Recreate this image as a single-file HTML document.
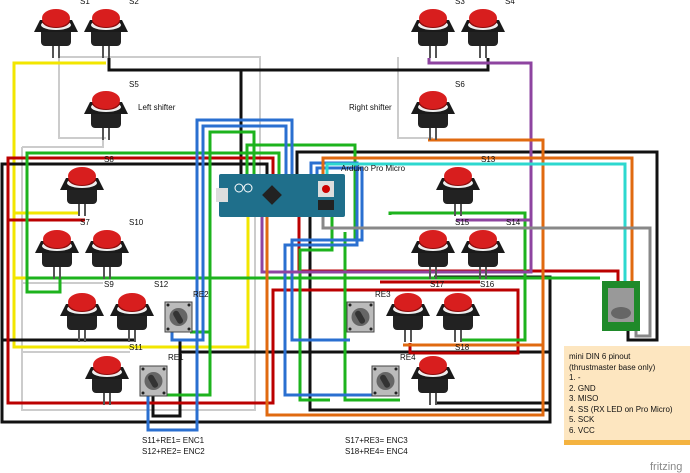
<!DOCTYPE html>
<html><head><meta charset="utf-8"><style>
body{margin:0;background:#fff;}
svg{display:block;font-family:"Liberation Sans","DejaVu Sans",sans-serif;}
</style></head><body>
<svg width="690" height="473" viewBox="0 0 690 473" xmlns="http://www.w3.org/2000/svg">
<defs>
<g id="btn">
 <rect x="-15" y="14" width="30" height="24" rx="4" fill="#222"/>
 <polygon points="-16,12 16,12 22,24 -22,24" fill="#1a1a1a"/>
 <ellipse cx="0" cy="17" rx="15" ry="5" fill="#eee"/>
 <ellipse cx="0" cy="13" rx="14" ry="7" fill="#8b0d0d"/>
 <ellipse cx="0" cy="10" rx="14" ry="9" fill="#d81e1e"/>
 <rect x="-4" y="38" width="2" height="12" fill="#555"/>
 <rect x="2" y="38" width="2" height="12" fill="#555"/>
</g>
<g id="enc">
 <rect x="0" y="0" width="27" height="30" fill="#bbb" stroke="#444"/>
 <circle cx="13.5" cy="15" r="9" fill="#666"/>
 <rect x="10" y="8" width="6" height="14" rx="3" fill="#333" transform="rotate(-30 13.5 15)"/>
 <circle cx="3" cy="3" r="1.5" fill="#222"/><circle cx="24" cy="3" r="1.5" fill="#222"/>
 <circle cx="3" cy="27" r="1.5" fill="#222"/><circle cx="24" cy="27" r="1.5" fill="#222"/>
</g>
</defs>
<rect width="690" height="473" fill="#fff"/>
<g fill="none" stroke-width="3" stroke-linejoin="miter">
 <!-- light gray -->
 <polyline stroke="#ccc" stroke-width="2" points="59,58 59,138 106,138"/>
 <polyline stroke="#ccc" stroke-width="2" points="59,57 260,57 260,175"/>
 <polyline stroke="#ccc" stroke-width="2" points="22,147 103,147 103,138"/>
 <polyline stroke="#ccc" stroke-width="2" points="22,147 22,410 255,410 255,215"/>
 <polyline stroke="#ccc" stroke-width="2" points="398,57 398,138 433,138"/>
 <polyline stroke="#ccc" stroke-width="2" points="22,283 103,283"/>
 <polyline stroke="#ccc" stroke-width="2" points="22,352 130,352"/>
 <!-- yellow -->
 <polyline stroke="#f2e600" points="106,63 14,63 14,347 248,347 248,215"/>
 <polyline stroke="#f2e600" points="14,213 78,213"/>
 <polyline stroke="#f2e600" points="14,278 53,278"/>
 <!-- black -->
 <polyline stroke="#111" points="109,58 109,70 488,70 488,58"/>
 <polyline stroke="#111" points="241,70 241,175"/>
 <polyline stroke="#111" points="267,175 267,164 2,164 2,422 550,422 550,277 434,277"/>
 <polyline stroke="#111" points="2,340 135,340"/>
 <polyline stroke="#111" points="180,352 550,352"/>
 <polyline stroke="#111" points="297,175 297,152 657,152 657,340 628,340 628,330"/>
 <polyline stroke="#111" points="310,215 310,410 550,410"/>
 <polyline stroke="#111" points="153,395 153,416 180,416 180,340"/>
 <polyline stroke="#111" points="436,403 550,403"/>
 <!-- red -->
 <polyline stroke="#b00" points="273,175 273,158 8,158 8,403 273,403 273,290 518,290 518,353 410,353 410,343"/>
 <polyline stroke="#b00" points="8,220 85,220"/>
 <polyline stroke="#b00" points="299,215 299,271 618,271 618,283"/>
 <polyline stroke="#b00" points="380,282 480,282"/>
 <!-- green -->
 <polyline stroke="#1db31d" points="279,175 279,153 27,153 27,292 60,292 60,277"/>
 <polyline stroke="#1db31d" points="27,278 600,278"/>
 <polyline stroke="#1db31d" points="247,175 247,145 355,145 355,240"/>
 <polyline stroke="#1db31d" points="254,175 254,132 210,132 210,395 160,395"/>
 <polyline stroke="#1db31d" points="390,215 390,213 525,213 525,340 460,340"/>
 <polyline stroke="#1db31d" points="345,232 345,400 400,400"/>
 <polyline stroke="#1db31d" points="332,215 332,250 300,250 300,400 330,400"/>
 <polyline stroke="#1db31d" points="190,332 210,332"/>
 <!-- blue -->
 <polyline stroke="#2a6fd0" points="292,175 292,120 197,120 197,430 148,430 148,395"/>
 <polyline stroke="#2a6fd0" points="286,175 286,126 203,126 203,340 172,340 172,332"/>
 <polyline stroke="#2a6fd0" points="311,175 311,163 357,163 357,245 285,245 285,395 380,395"/>
 <polyline stroke="#2a6fd0" points="317,175 317,168 362,168 362,240 292,240 292,340 350,340"/>
 <!-- purple -->
 <polyline stroke="#8e44a0" points="429,58 429,63 531,63 531,272 262,272 262,215"/>
 <polyline stroke="#8e44a0" points="456,220 531,220"/>
 <!-- orange -->
 <polyline stroke="#e06a10" points="323,175 323,158 632,158 632,283"/>
 <polyline stroke="#e06a10" points="428,140 543,140 543,415 267,415 267,215"/>
 <polyline stroke="#e06a10" points="403,345 543,345"/>
 <!-- cyan -->
 <polyline stroke="#2dd8cf" points="327,215 327,164 625,164 625,283"/>
 <!-- gray -->
 <polyline stroke="#888" points="323,215 323,228 650,228 650,336 636,336 636,330"/>
</g>
<!-- arduino -->
<rect x="219" y="174" width="126" height="43" rx="2" fill="#1f6f8b"/>
<rect x="216" y="188" width="12" height="14" fill="#ddd"/>
<circle cx="239" cy="188" r="4" fill="none" stroke="#fff"/><circle cx="248" cy="188" r="4" fill="none" stroke="#fff"/>
<rect x="265" y="188" width="14" height="14" fill="#222" transform="rotate(45 272 195)"/>
<rect x="318" y="181" width="16" height="16" fill="#ddd"/><circle cx="326" cy="189" r="4" fill="#c00"/>
<rect x="318" y="200" width="16" height="10" fill="#222"/>
<!-- DIN -->
<rect x="602" y="281" width="38" height="50" fill="#1f8a2a"/>
<rect x="608" y="288" width="26" height="34" fill="#999"/>
<ellipse cx="621" cy="313" rx="10" ry="6" fill="#666"/>
<!-- buttons -->
<use href="#btn" x="56" y="8"/><use href="#btn" x="106" y="8"/>
<use href="#btn" x="433" y="8"/><use href="#btn" x="483" y="8"/>
<use href="#btn" x="106" y="90"/><use href="#btn" x="433" y="90"/>
<use href="#btn" x="82" y="166"/><use href="#btn" x="458" y="166"/>
<use href="#btn" x="57" y="229"/><use href="#btn" x="107" y="229"/>
<use href="#btn" x="433" y="229"/><use href="#btn" x="483" y="229"/>
<use href="#btn" x="82" y="292"/><use href="#btn" x="132" y="292"/>
<use href="#btn" x="408" y="292"/><use href="#btn" x="458" y="292"/>
<use href="#btn" x="107" y="355"/><use href="#btn" x="433" y="355"/>
<use href="#enc" x="165" y="302"/><use href="#enc" x="140" y="366"/>
<use href="#enc" x="347" y="302"/><use href="#enc" x="372" y="366"/>
<!-- note -->
<rect x="564" y="346" width="126" height="99" fill="#fde6c0"/>
<rect x="564" y="440" width="126" height="5" fill="#f4b340"/>
<g font-size="8" fill="#111">
<text x="80" y="4">S1</text><text x="129" y="4">S2</text>
<text x="455" y="4">S3</text><text x="505" y="4">S4</text>
<text x="129" y="87">S5</text><text x="455" y="87">S6</text>
<text x="138" y="110">Left shifter</text><text x="349" y="110">Right shifter</text>
<text x="104" y="162">S8</text><text x="481" y="162">S13</text>
<text x="341" y="171">Arduino Pro Micro</text>
<text x="80" y="225">S7</text><text x="129" y="225">S10</text>
<text x="455" y="225">S15</text><text x="506" y="225">S14</text>
<text x="104" y="287">S9</text><text x="154" y="287">S12</text>
<text x="193" y="297">RE2</text><text x="375" y="297">RE3</text>
<text x="430" y="287">S17</text><text x="480" y="287">S16</text>
<text x="129" y="350">S11</text><text x="455" y="350">S18</text>
<text x="168" y="360">RE1</text><text x="400" y="360">RE4</text>
<text x="142" y="443">S11+RE1= ENC1</text><text x="142" y="454">S12+RE2= ENC2</text>
<text x="345" y="443">S17+RE3= ENC3</text><text x="345" y="454">S18+RE4= ENC4</text>
<text x="569" y="359">mini DIN 6 pinout</text>
<text x="569" y="370">(thrustmaster base only)</text>
<text x="569" y="380">1. -</text><text x="569" y="391">2. GND</text>
<text x="569" y="401">3. MISO</text><text x="569" y="412">4. SS (RX LED on Pro Micro)</text>
<text x="569" y="422">5. SCK</text><text x="569" y="433">6. VCC</text>
</g>
<text x="650" y="470" font-size="11" fill="#888">fritzing</text>
</svg>
</body></html>
